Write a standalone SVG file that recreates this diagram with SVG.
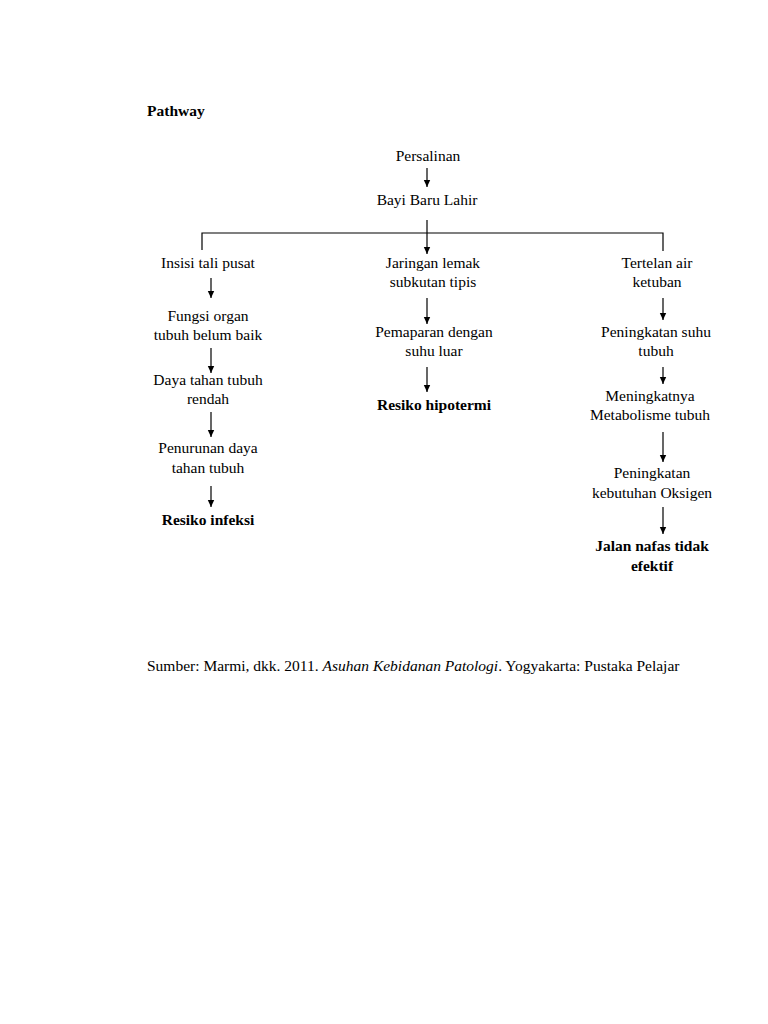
<svg xmlns="http://www.w3.org/2000/svg" width="768" height="1024" viewBox="0 0 768 1024">
<style>
text{font-family:"Liberation Serif","Times New Roman",serif;font-size:15.5px;fill:#000}
.c{text-anchor:middle}
.b{font-weight:bold}
.l{stroke:#000;stroke-width:1.2;fill:none}
</style>
<defs>
<marker id="ah" markerWidth="8" markerHeight="8" refX="7" refY="4" orient="auto" markerUnits="userSpaceOnUse">
<path d="M0,0.8 L7,4 L0,7.2 Z" fill="#000"/>
</marker>
</defs>
<rect width="768" height="1024" fill="#fff"/>
<text id="title" x="147" y="116" class="b">Pathway</text>
<g id="connectors">
<line class="l" x1="427" y1="168" x2="427" y2="187" marker-end="url(#ah)"/>
<polyline class="l" points="427,220 427,233"/>
<polyline class="l" points="202,250 202,233 663,233 663,251"/>
<line class="l" x1="427" y1="233" x2="427" y2="254" marker-end="url(#ah)"/>
<line class="l" x1="211" y1="278" x2="211" y2="298" marker-end="url(#ah)"/>
<line class="l" x1="211" y1="348" x2="211" y2="373" marker-end="url(#ah)"/>
<line class="l" x1="211" y1="412" x2="211" y2="437" marker-end="url(#ah)"/>
<line class="l" x1="211" y1="486" x2="211" y2="507" marker-end="url(#ah)"/>
<line class="l" x1="427" y1="298" x2="427" y2="324" marker-end="url(#ah)"/>
<line class="l" x1="427" y1="367" x2="427" y2="392" marker-end="url(#ah)"/>
<line class="l" x1="663" y1="298" x2="663" y2="320" marker-end="url(#ah)"/>
<line class="l" x1="663" y1="367" x2="663" y2="384" marker-end="url(#ah)"/>
<line class="l" x1="663" y1="432" x2="663" y2="462" marker-end="url(#ah)"/>
<line class="l" x1="663" y1="507" x2="663" y2="534" marker-end="url(#ah)"/>
</g>
<g id="persalinan"><text x="428" y="161" class="c">Persalinan</text></g>
<g id="bayi"><text x="427" y="205" class="c">Bayi Baru Lahir</text></g>
<g id="insisi"><text x="208" y="268" class="c">Insisi tali pusat</text></g>
<g id="fungsi"><text x="208" y="321" class="c">Fungsi organ</text><text x="208" y="340" class="c">tubuh belum baik</text></g>
<g id="daya"><text x="208" y="385" class="c">Daya tahan tubuh</text><text x="208" y="404" class="c">rendah</text></g>
<g id="penurunan"><text x="208" y="453" class="c">Penurunan daya</text><text x="208" y="473" class="c">tahan tubuh</text></g>
<g id="infeksi"><text x="208" y="525" class="c b">Resiko infeksi</text></g>
<g id="jaringan"><text x="433" y="268" class="c">Jaringan lemak</text><text x="433" y="287" class="c">subkutan tipis</text></g>
<g id="pemaparan"><text x="434" y="337" class="c">Pemaparan dengan</text><text x="434" y="356" class="c">suhu luar</text></g>
<g id="hipotermi"><text x="434" y="410" class="c b">Resiko hipotermi</text></g>
<g id="tertelan"><text x="657" y="268" class="c">Tertelan air</text><text x="657" y="287" class="c">ketuban</text></g>
<g id="suhu"><text x="656" y="337" class="c">Peningkatan suhu</text><text x="656" y="356" class="c">tubuh</text></g>
<g id="metabolisme"><text x="650" y="401" class="c">Meningkatnya</text><text x="650" y="420" class="c">Metabolisme tubuh</text></g>
<g id="oksigen"><text x="652" y="478" class="c">Peningkatan</text><text x="652" y="498" class="c">kebutuhan Oksigen</text></g>
<g id="jalan"><text x="652" y="551" class="c b">Jalan nafas tidak</text><text x="652" y="571" class="c b">efektif</text></g>
<text id="sumber" x="147" y="671">Sumber: Marmi, dkk. 2011. <tspan font-style="italic">Asuhan Kebidanan Patologi</tspan>. Yogyakarta: Pustaka Pelajar</text>
</svg>
